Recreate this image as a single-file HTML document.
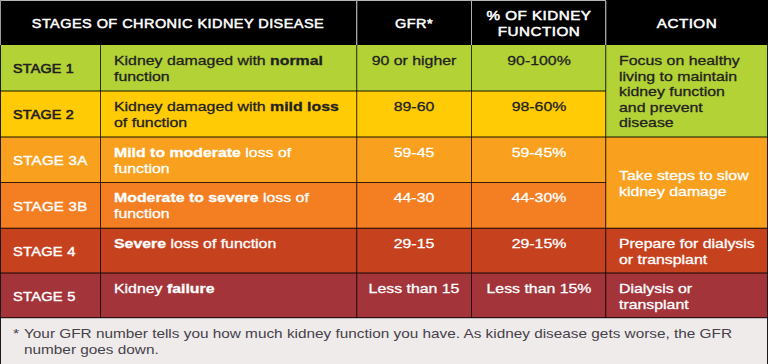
<!DOCTYPE html>
<html><head><meta charset="utf-8">
<style>
html,body{margin:0;padding:0;}
body{width:768px;height:364px;position:relative;overflow:hidden;background:#efebeb;font-family:"Liberation Sans",sans-serif;}
.bg{position:absolute;}
.t{position:absolute;white-space:nowrap;font-size:13px;line-height:15.5px;color:#231f20;transform:scaleX(1.22);transform-origin:0 0;-webkit-text-stroke:0.3px currentColor;}
.w{color:#fff;}
.h{font-weight:normal;color:#fff;text-align:center;transform:scaleX(1.115);transform-origin:50% 0;letter-spacing:0.4px;}
.c{text-align:center;transform-origin:50% 0;}
.st{font-weight:normal;transform:scaleX(1.13);margin-left:-1px;-webkit-text-stroke:0.4px currentColor;letter-spacing:0.2px;}
b{font-weight:bold;}
.h{-webkit-text-stroke:0.5px #fff;}
</style></head><body>
<!-- backgrounds -->
<div class="bg" style="left:0;top:0;width:768px;height:45px;background:#000"></div>
<div class="bg" style="left:0;top:45px;width:768px;height:46px;background:#b3d236"></div>
<div class="bg" style="left:0;top:91px;width:606px;height:46px;background:#ffcb05"></div>
<div class="bg" style="left:606px;top:45px;width:162px;height:92px;background:#b3d236"></div>
<div class="bg" style="left:0;top:137px;width:768px;height:45px;background:#f9a01e"></div>
<div class="bg" style="left:0;top:182px;width:606px;height:46px;background:#f47e22"></div>
<div class="bg" style="left:606px;top:137px;width:162px;height:91px;background:#f9a01e"></div>
<div class="bg" style="left:0;top:228px;width:768px;height:45px;background:#c6421f"></div>
<div class="bg" style="left:0;top:273px;width:768px;height:45px;background:#a3343a"></div>
<!-- header gray lines -->
<div class="bg" style="left:0;top:0;width:606px;height:1px;background:#b5b5b5"></div>
<div class="bg" style="left:0;top:0;width:1px;height:45px;background:#999"></div>
<div class="bg" style="left:356px;top:0;width:1px;height:45px;background:#a5a3a5"></div>
<div class="bg" style="left:357px;top:1px;width:1px;height:44px;background:#3a3a3a"></div>
<div class="bg" style="left:471px;top:0;width:1px;height:45px;background:#aeacae"></div>
<div class="bg" style="left:605px;top:0;width:1px;height:45px;background:#a5a3a5"></div>
<div class="bg" style="left:606px;top:1px;width:1px;height:44px;background:#3a3a3a"></div>
<!-- grid dark lines -->
<div class="bg" style="left:0;top:45px;width:1px;height:319px;background:#1a1a1a"></div>
<div class="bg" style="left:767px;top:45px;width:1px;height:319px;background:#1a1a1a"></div>
<div class="bg" style="left:100px;top:45px;width:1px;height:273px;background:rgba(0,0,0,.78)"></div>
<div class="bg" style="left:356px;top:45px;width:1px;height:273px;background:rgba(0,0,0,.62)"></div>
<div class="bg" style="left:357px;top:45px;width:1px;height:273px;background:rgba(0,0,0,.2)"></div>
<div class="bg" style="left:471px;top:45px;width:1px;height:273px;background:rgba(0,0,0,.75)"></div>
<div class="bg" style="left:605px;top:45px;width:1px;height:273px;background:rgba(0,0,0,.65)"></div>
<div class="bg" style="left:606px;top:45px;width:1px;height:273px;background:rgba(0,0,0,.2)"></div>
<div class="bg" style="left:0;top:90px;width:606px;height:2px;background:rgba(0,0,0,.45)"></div>
<div class="bg" style="left:0;top:136px;width:768px;height:2px;background:rgba(0,0,0,.45)"></div>
<div class="bg" style="left:0;top:182px;width:606px;height:1px;background:rgba(0,0,0,.78)"></div>
<div class="bg" style="left:0;top:227px;width:768px;height:1px;background:rgba(0,0,0,.25)"></div>
<div class="bg" style="left:0;top:228px;width:768px;height:1px;background:rgba(0,0,0,.65)"></div>
<div class="bg" style="left:0;top:272px;width:768px;height:2px;background:rgba(0,0,0,.45)"></div>
<div class="bg" style="left:0;top:317px;width:768px;height:1px;background:rgba(0,0,0,.7)"></div>
<div class="bg" style="left:0;top:318px;width:768px;height:1px;background:rgba(0,0,0,.2)"></div>

<!-- header text -->
<div class="t h" style="left:0;top:16px;width:356px;">STAGES OF CHRONIC KIDNEY DISEASE</div>
<div class="t h" style="left:356px;top:16px;width:116px;">GFR*</div>
<div class="t h" style="left:472px;top:8px;width:134px;transform:scaleX(1.17);">% OF KIDNEY<br>FUNCTION</div>
<div class="t h" style="left:606px;top:16px;width:162px;transform:scaleX(1.17);">ACTION</div>

<!-- stage labels -->
<div class="t st" style="left:14px;top:61px;transform:scaleX(1.1);-webkit-text-stroke:0.65px #231f20;">STAGE 1</div>
<div class="t st" style="left:14px;top:107px;transform:scaleX(1.1);-webkit-text-stroke:0.65px #231f20;">STAGE 2</div>
<div class="t st w" style="left:14px;top:152.5px;transform:scaleX(1.16);">STAGE 3A</div>
<div class="t st w" style="left:14px;top:198.5px;transform:scaleX(1.16);">STAGE 3B</div>
<div class="t st w" style="left:14px;top:243.5px;">STAGE 4</div>
<div class="t st w" style="left:14px;top:288.5px;">STAGE 5</div>

<!-- descriptions -->
<div class="t" style="left:114px;top:53px;">Kidney damaged with <b>normal</b><br>function</div>
<div class="t" style="left:114px;top:99px;">Kidney damaged with <b>mild loss</b><br>of function</div>
<div class="t w" style="left:114px;top:145px;"><b>Mild to moderate</b> loss of<br>function</div>
<div class="t w" style="left:114px;top:190px;"><b>Moderate to severe</b> loss of<br>function</div>
<div class="t w" style="left:114px;top:236px;"><b>Severe</b> loss of function</div>
<div class="t w" style="left:114px;top:281px;">Kidney <b>failure</b></div>

<!-- GFR -->
<div class="t c" style="left:356px;top:53px;width:116px;">90 or higher</div>
<div class="t c" style="left:356px;top:99px;width:116px;">89-60</div>
<div class="t c w" style="left:356px;top:145px;width:116px;">59-45</div>
<div class="t c w" style="left:356px;top:190px;width:116px;">44-30</div>
<div class="t c w" style="left:356px;top:236px;width:116px;">29-15</div>
<div class="t c w" style="left:356px;top:281px;width:116px;">Less than 15</div>

<!-- % -->
<div class="t c" style="left:472px;top:53px;width:134px;">90-100%</div>
<div class="t c" style="left:472px;top:99px;width:134px;">98-60%</div>
<div class="t c w" style="left:472px;top:145px;width:134px;">59-45%</div>
<div class="t c w" style="left:472px;top:190px;width:134px;">44-30%</div>
<div class="t c w" style="left:472px;top:236px;width:134px;">29-15%</div>
<div class="t c w" style="left:472px;top:281px;width:134px;">Less than 15%</div>

<!-- action -->
<div class="t" style="left:619px;top:53px;">Focus on healthy<br>living to maintain<br>kidney function<br>and prevent<br>disease</div>
<div class="t w" style="left:619px;top:168px;">Take steps to slow<br>kidney damage</div>
<div class="t w" style="left:619px;top:236px;">Prepare for dialysis<br>or transplant</div>
<div class="t w" style="left:619px;top:281px;">Dialysis or<br>transplant</div>

<!-- footer -->
<div class="t" style="left:13px;top:326px;color:#454149;-webkit-text-stroke:0;">*</div>
<div class="t" style="left:24px;top:326px;color:#454149;transform:scaleX(1.18);-webkit-text-stroke:0;">Your GFR number tells you how much kidney function you have. As kidney disease gets worse, the GFR<br>number goes down.</div>
</body></html>
